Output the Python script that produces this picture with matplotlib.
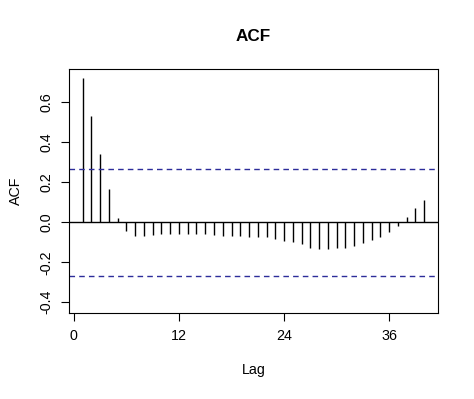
import numpy as np
import matplotlib
matplotlib.use("Agg")
import matplotlib.pyplot as plt

plt.rcParams["font.family"] = ["Liberation Sans", "DejaVu Sans"]

lags = np.arange(1, 41)
acf_values = [
    0.72, 0.531, 0.34, 0.165, 0.02, -0.044, -0.066, -0.07, -0.064, -0.06,
    -0.058, -0.058, -0.058, -0.058, -0.06, -0.064, -0.067, -0.067, -0.068, -0.072,
    -0.075, -0.075, -0.085, -0.094, -0.097, -0.11, -0.127, -0.132, -0.132, -0.127,
    -0.127, -0.119, -0.105, -0.089, -0.072, -0.047, -0.018, 0.025, 0.07, 0.112,
]
ci = 0.268
x_ticks = [0, 12, 24, 36]
y_ticks = [-0.4, -0.2, 0.0, 0.2, 0.4, 0.6]

fig = plt.figure(figsize=(4.74, 3.99), dpi=100)
ax = fig.add_axes([0.1456, 0.2148, 0.778, 0.6122])

ax.vlines(lags, 0, acf_values, color="black", linewidth=1)
ax.axhline(0, color="black", linewidth=1)
ax.axhline(ci, color="#2d2d9a", linestyle=(0, (4, 3)), linewidth=1)
ax.axhline(-ci, color="#2d2d9a", linestyle=(0, (4, 3)), linewidth=1)

ax.set_xlim(-0.56, 41.56)
ax.set_ylim(-0.455, 0.767)
ax.set_xticks(x_ticks)
ax.set_yticks(y_ticks)
ax.set_yticklabels(["-0.4", "-0.2", "0.0", "0.2", "0.4", "0.6"], rotation=90, va="center")
ax.tick_params(direction="out", length=6, width=0.8, labelsize=10.3, pad=5)
for s in ax.spines.values():
    s.set_linewidth(0.8)

ax.set_title("ACF", fontsize=12.3, fontweight="bold", pad=20)
ax.set_xlabel("Lag", fontsize=10.3, labelpad=15)
ax.set_ylabel("ACF", fontsize=10.3, labelpad=12)

fig.savefig("out.png", dpi=100)
